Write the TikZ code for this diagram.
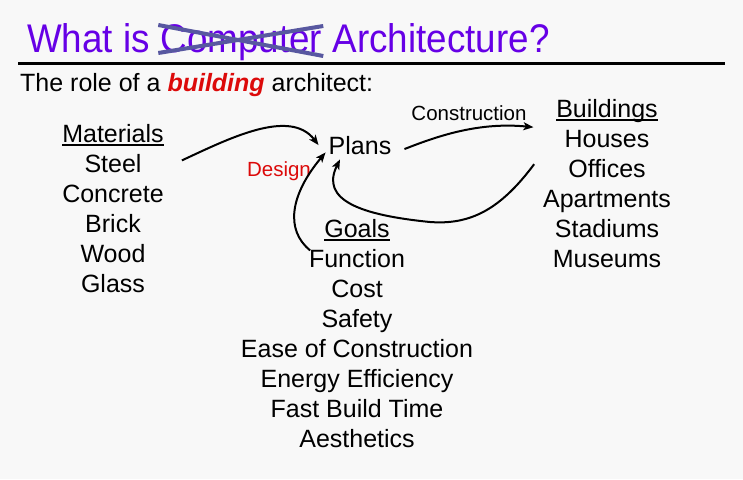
\documentclass[tikz,border=0pt]{standalone}
\usepackage{fontspec}
\setmainfont{Liberation Sans}
\newfontfamily\titlefont[FakeStretch=0.92]{Liberation Sans}
\usepackage{tikz}
\usetikzlibrary{positioning,matrix,arrows.meta}
\definecolor{titlepurple}{RGB}{102,0,230}
\definecolor{crossblue}{RGB}{88,88,160}
\definecolor{designred}{RGB}{220,10,10}
\definecolor{slidebg}{RGB}{248,248,248}
\newcommand\bigtext{\fontsize{25pt}{30pt}\selectfont}
\newcommand\smalltext{\fontsize{20.5pt}{24pt}\selectfont}
\newcommand\headline[1]{\setbox0\hbox{#1}\rlap{\rule[-3.6pt]{\wd0}{1.8pt}}\box0}

\begin{document}
\begin{tikzpicture}[x=1pt, y=-1pt,
    titletext/.style={inner sep=0pt, text=titlepurple, font=\titlefont\fontsize{40pt}{48pt}\selectfont},
    listbox/.style={matrix of nodes, inner sep=0pt, row sep=6pt,
        nodes={inner sep=0pt, text height=18pt, text depth=6pt, font=\bigtext}},
    flow/.style={line width=2pt, -{Stealth[length=10pt, width=8pt, inset=2.5pt]}}]
    \fill[slidebg] (0,0) rectangle (743,479);
    \useasboundingbox (0,0) rectangle (743,479);

    % Title with the crossed word
    \node[titletext, anchor=base west] (whatis) at (27,52) {What is};
    \node[titletext, base right=10.2pt of whatis] (computer) {Computer};
    \node[titletext, base right=10.2pt of computer] (archq) {Architecture?};
    \draw[crossblue, line width=4pt]
        ([xshift=-2pt,yshift=27pt]computer.base west) -- ([xshift=1pt,yshift=-4pt]computer.base east);
    \draw[crossblue, line width=4pt]
        ([xshift=-2pt,yshift=-1pt]computer.base west) -- ([xshift=1pt,yshift=26pt]computer.base east);
    \draw[line width=3pt] (18,63) -- (725,63);

    \node[anchor=base west, inner sep=0pt, font=\bigtext] (role) at (20,91)
        {The role of a \textcolor{designred}{\bfseries\itshape building} architect:};

    % Lists
    \matrix (materials) [listbox, anchor=north] at (113,124) {
        \headline{Materials}\\ Steel\\ Concrete\\ Brick\\ Wood\\ Glass\\
    };
    \matrix (goals) [listbox, anchor=north] at (357,219) {
        \headline{Goals}\\ Function\\ Cost\\ Safety\\ Ease of Construction\\
        Energy Efficiency\\ Fast Build Time\\ Aesthetics\\
    };
    \matrix (buildings) [listbox, anchor=north] at (607,99) {
        \headline{Buildings}\\ Houses\\ Offices\\ Apartments\\ Stadiums\\ Museums\\
    };

    \node[anchor=base, inner sep=0pt, font=\bigtext] (plans) at (360,154) {Plans};
    \node[anchor=base, inner sep=0pt, font=\smalltext] (construction) at (469,120) {Construction};
    \node[anchor=base, inner sep=0pt, font=\smalltext, text=designred] (design) at (279,176) {Design};

    % Arrows into and out of the plans
    \draw[flow] ([xshift=18pt,yshift=-12pt]materials-1-1.south east)
        .. controls (230,138) and (290,108) .. ([xshift=-10pt]plans.west);
    \draw[flow] ([xshift=13pt,yshift=-4pt]plans.east)
        .. controls (440,135) and (480,122) .. ([xshift=-31pt,yshift=14pt]buildings-2-1.west);
    \draw[flow] ([xshift=-34pt,yshift=7pt]buildings-3-1.west)
        .. controls (500,210) and (470,225) .. (430,222)
        .. controls (360,215) and (320,200) .. ([xshift=-20pt,yshift=-5pt]plans.south);
    \draw[flow] ([xshift=-14pt,yshift=-7pt]goals-1-1.south west)
        .. controls (285,230) and (290,195) .. ([xshift=-3pt,yshift=2pt]plans.south west);
\end{tikzpicture}
\end{document}
